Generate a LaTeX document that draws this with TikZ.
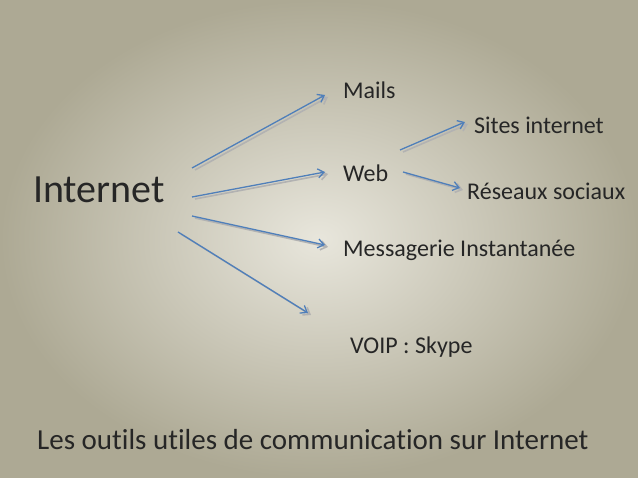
\documentclass[tikz,border=0pt]{standalone}
\usepackage{fontspec}
\setmainfont[Ligatures=NoCommon]{Carlito}
\usetikzlibrary{shadings,arrows.meta}
\begin{document}
\begin{tikzpicture}[x=1pt,y=-1pt,
  lbl/.style={anchor=west,inner sep=0pt,font=\fontsize{24}{28}\selectfont,text=black!85},
  arr/.style={draw=arrowblue, line width=1.3pt,-{Straight Barb[length=6pt,width=9pt]},
    preaction={draw=black!30,line width=1.6pt,-{Straight Barb[length=6pt,width=9pt]},transform canvas={xshift=3pt,yshift=-2pt}}}]
\definecolor{edge}{HTML}{ADA994}
\definecolor{mid}{HTML}{E8E6DC}
\definecolor{arrowblue}{HTML}{4F7FBA}
\fill[inner color=mid,outer color=edge] (0,0) rectangle (638,478);
\useasboundingbox (0,0) rectangle (638,478);
\node[lbl,font=\fontsize{40}{44}\selectfont] (inet) at (33,190) {Internet};
\node[lbl] (mails) at (343,90) {Mails};
\node[lbl] (web) at (343,173) {Web};
\node[lbl] (sites) at (474,125) {Sites internet};
\node[lbl] (res) at (467,191) {Réseaux sociaux};
\node[lbl] (msg) at (343,250) {Messagerie Instantanée};
\node[lbl] (voip) at (350,347) {VOIP : Skype};
\node[lbl,font=\fontsize{29}{32}\selectfont] (title) at (37,440) {Les outils utiles de communication sur Internet};
\coordinate (a1) at (192,168); \coordinate (b1) at (325,95);
\coordinate (a2) at (192,197); \coordinate (b2) at (325,172);
\coordinate (a3) at (192,216); \coordinate (b3) at (325,245);
\coordinate (a4) at (178,232); \coordinate (b4) at (308,313);
\coordinate (a5) at (400,150); \coordinate (b5) at (465,122);
\coordinate (a6) at (403,172); \coordinate (b6) at (460,188);
\foreach \i in {1,...,6} \draw[arr] (a\i) -- (b\i);
\end{tikzpicture}
\end{document}
